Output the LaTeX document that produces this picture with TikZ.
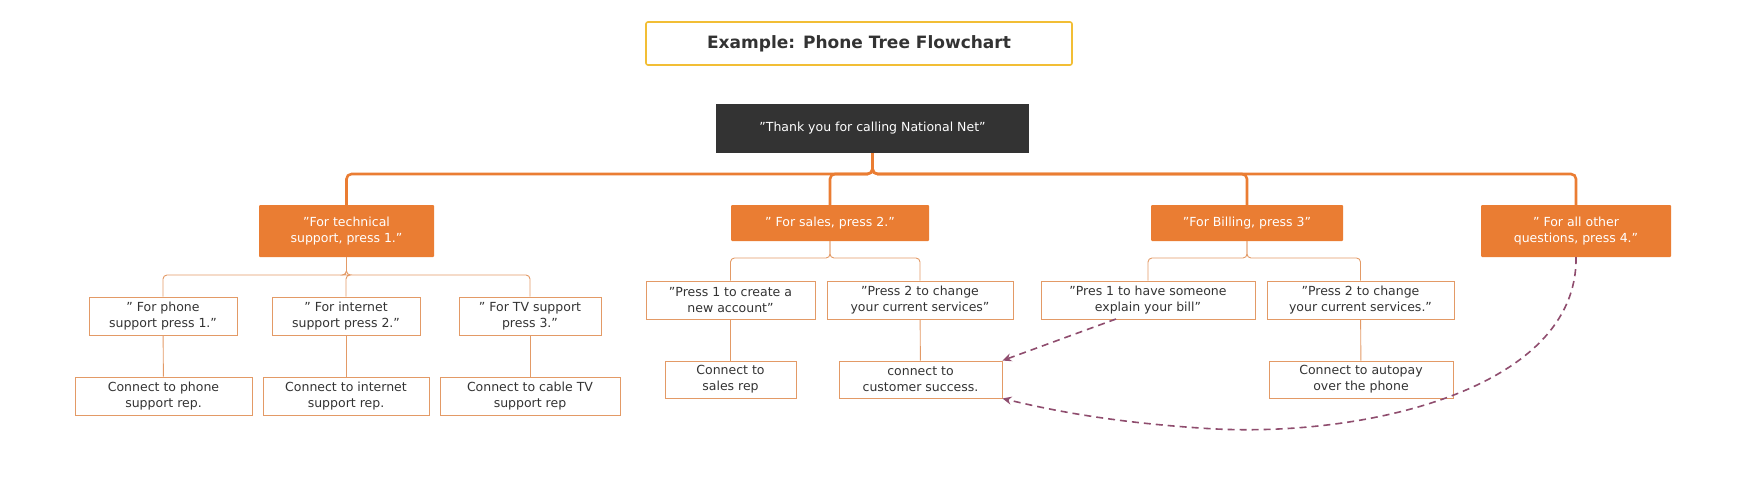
\documentclass[tikz,border=0pt]{standalone}
\usepackage{fontspec}
\setmainfont{DejaVu Sans}
\usetikzlibrary{arrows.meta}
\definecolor{org}{HTML}{EA7D33}
\definecolor{lorg}{HTML}{E39A66}
\definecolor{dk}{HTML}{333333}
\definecolor{ttl}{HTML}{F2BE35}
\definecolor{arr}{HTML}{8F4D6E}
\tikzset{
 x=1pt,y=-1pt,
 base/.style={align=center,inner sep=0pt,font=\fontsize{12.5}{16}\selectfont},
 l1/.style={base,fill=org,text=white,rounded corners=1pt},
 l2/.style={base,draw=lorg,line width=0.9pt,text=dk},
 bus/.style={org,line width=2.6pt,rounded corners=5pt},
 sub/.style={lorg,line width=0.9pt,rounded corners=4pt},
 dsh/.style={arr,line width=1.6pt,dash pattern=on 7pt off 5pt,-{Stealth[length=9pt,width=8pt]}}
}
\begin{document}
\begin{tikzpicture}
\useasboundingbox (0,0) rectangle (1746,477);
\node[base,draw=ttl,line width=1.6pt,rounded corners=2pt,minimum width=426,minimum height=43,font=\fontsize{17}{20}\selectfont\bfseries,text=dk] (title) at (859,43.5) {Example: Phone Tree Flowchart};
\node[base,fill=dk,text=white,minimum width=313,minimum height=49] (root) at (872.5,128.5) {"Thank you for calling National Net"};
% level 1
\node[l1,minimum width=175,minimum height=52] (tech) at (346.5,231) {"For technical\\support, press 1."};
\node[l1,minimum width=198,minimum height=36] (sales) at (830,223) {" For sales, press 2."};
\node[l1,minimum width=192,minimum height=36] (bill) at (1247,223) {"For Billing, press 3"};
\node[l1,minimum width=190,minimum height=52] (other) at (1576,231) {" For all other\\questions, press 4."};
\coordinate (busy) at (0,174);
\foreach \c in {tech,sales,bill,other}
  \draw[bus] (root.south) -- (root.south|-busy) -| (\c.north);
% level 2 tech
\node[l2,minimum width=148,minimum height=38] (tp) at (163,316) {" For phone\\support press 1."};
\node[l2,minimum width=148,minimum height=38] (ti) at (346,316) {" For internet\\support press 2."};
\node[l2,minimum width=142,minimum height=38] (ttv) at (530,316) {" For TV support\\press 3."};
\coordinate (s1) at (0,275);
\foreach \c in {tp,ti,ttv}
  \draw[sub] (tech.south) -- (tech.south|-s1) -| (\c.north);
\node[l2,minimum width=177,minimum height=38] (cp) at (163.5,396) {Connect to phone\\support rep.};
\node[l2,minimum width=166,minimum height=38] (ci) at (346,396) {Connect to internet\\support rep.};
\node[l2,minimum width=180,minimum height=38] (ctv) at (530,396) {Connect to cable TV\\support rep};
\draw[sub] (tp) -- (cp); \draw[sub] (ti) -- (ci); \draw[sub] (ttv) -- (ctv);
% sales
\node[l2,minimum width=169,minimum height=38] (sc) at (730.5,300) {"Press 1 to create a\\new account"};
\node[l2,minimum width=186,minimum height=38] (ss) at (920,300) {"Press 2 to change\\your current services"};
\coordinate (s2) at (0,258);
\foreach \c in {sc,ss}
  \draw[sub] (sales.south) -- (sales.south|-s2) -| (\c.north);
\node[l2,minimum width=131,minimum height=37] (sr) at (730.5,379.5) {Connect to\\sales rep};
\node[l2,minimum width=163,minimum height=37] (cs) at (920.5,379.5) {connect to\\customer success.};
\draw[sub] (sc) -- (sr); \draw[sub] (ss) -- (cs);
% billing
\node[l2,minimum width=214,minimum height=38] (bp) at (1148,300) {"Pres 1 to have someone\\explain your bill"};
\node[l2,minimum width=187,minimum height=38] (bc) at (1360.5,300) {"Press 2 to change\\your current services."};
\coordinate (s3) at (0,258);
\foreach \c in {bp,bc}
  \draw[sub] (bill.south) -- (bill.south|-s3) -| (\c.north);
\node[l2,minimum width=184,minimum height=37] (ap) at (1361,379.5) {Connect to autopay\\over the phone};
\draw[sub] (bc) -- (ap);
% dashed arrows
\coordinate (a1) at (1116,319);
\draw[dsh] (a1) -- (cs.north east);
\draw[dsh] (other.south) .. controls (1578,390) and (1360,440) .. (1200,428) .. controls (1110,422) and (1050,410) .. (cs.south east);
\end{tikzpicture}
\end{document}
